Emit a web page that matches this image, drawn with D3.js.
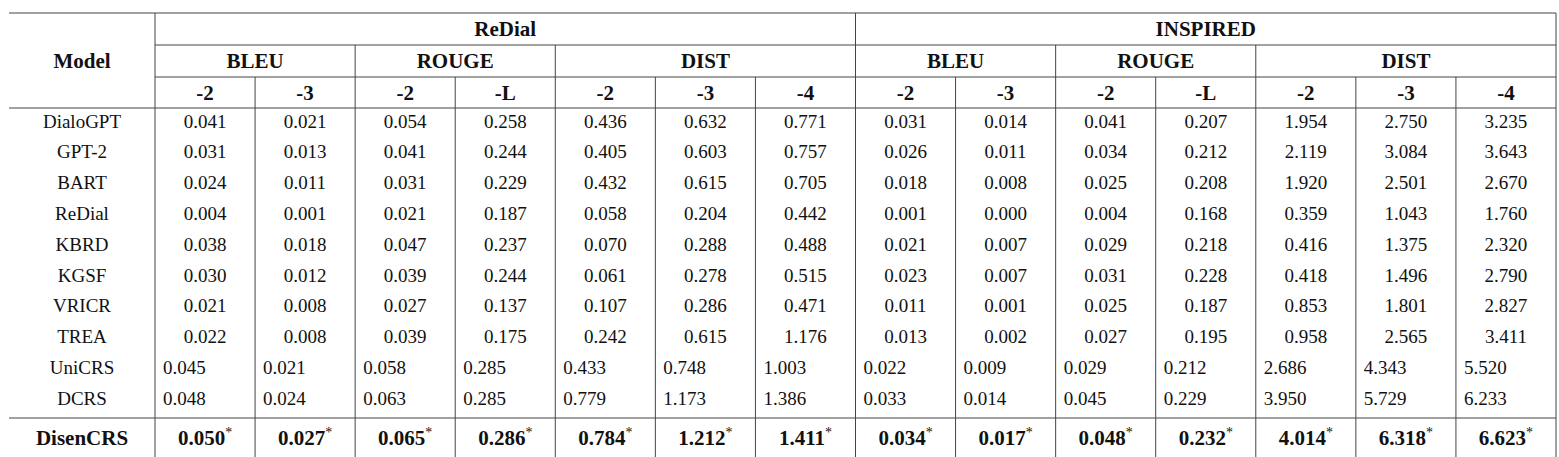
<!DOCTYPE html>
<html><head><meta charset="utf-8">
<script src="https://cdn.jsdelivr.net/npm/d3@7"></script>
<style>body{margin:0;background:#fff}svg{font-family:"Liberation Serif",serif}</style>
</head><body><svg></svg>
<script>
// ---- data ----
const datasets = ["ReDial", "INSPIRED"];
const metrics = [["BLEU", 2], ["ROUGE", 2], ["DIST", 3]];
const subLabels = ["-2", "-3", "-2", "-L", "-2", "-3", "-4"];
const models = ["DialoGPT", "GPT-2", "BART", "ReDial", "KBRD", "KGSF", "VRICR", "TREA", "UniCRS", "DCRS", "DisenCRS"];
const redial = [
  [0.041, 0.021, 0.054, 0.258, 0.436, 0.632, 0.771],
  [0.031, 0.013, 0.041, 0.244, 0.405, 0.603, 0.757],
  [0.024, 0.011, 0.031, 0.229, 0.432, 0.615, 0.705],
  [0.004, 0.001, 0.021, 0.187, 0.058, 0.204, 0.442],
  [0.038, 0.018, 0.047, 0.237, 0.070, 0.288, 0.488],
  [0.030, 0.012, 0.039, 0.244, 0.061, 0.278, 0.515],
  [0.021, 0.008, 0.027, 0.137, 0.107, 0.286, 0.471],
  [0.022, 0.008, 0.039, 0.175, 0.242, 0.615, 1.176],
  [0.045, 0.021, 0.058, 0.285, 0.433, 0.748, 1.003],
  [0.048, 0.024, 0.063, 0.285, 0.779, 1.173, 1.386],
  [0.050, 0.027, 0.065, 0.286, 0.784, 1.212, 1.411]
];
const inspired = [
  [0.031, 0.014, 0.041, 0.207, 1.954, 2.750, 3.235],
  [0.026, 0.011, 0.034, 0.212, 2.119, 3.084, 3.643],
  [0.018, 0.008, 0.025, 0.208, 1.920, 2.501, 2.670],
  [0.001, 0.000, 0.004, 0.168, 0.359, 1.043, 1.760],
  [0.021, 0.007, 0.029, 0.218, 0.416, 1.375, 2.320],
  [0.023, 0.007, 0.031, 0.228, 0.418, 1.496, 2.790],
  [0.011, 0.001, 0.025, 0.187, 0.853, 1.801, 2.827],
  [0.013, 0.002, 0.027, 0.195, 0.958, 2.565, 3.411],
  [0.022, 0.009, 0.029, 0.212, 2.686, 4.343, 5.520],
  [0.033, 0.014, 0.045, 0.229, 3.950, 5.729, 6.233],
  [0.034, 0.017, 0.048, 0.232, 4.014, 6.318, 6.623]
];
const leftRows = ["UniCRS", "DCRS"];

// ---- layout ----
const W = 1559, H = 457;
const svg = d3.select("svg").attr("width", W).attr("height", H);
const left = 9, modelW = 146, right = 1556;
const xs = d3.scaleLinear().domain([0, 14]).range([left + modelW, right]);
const ys = d3.scaleLinear().domain([0, 9]).range([121, 398]);
const stroke = "#444";
const line = (x1, y1, x2, y2, w) => svg.append("line").attr("x1", x1).attr("y1", y1).attr("x2", x2).attr("y2", y2)
  .attr("stroke", stroke).attr("stroke-width", w || 1);
const txt = (x, y, s, opt) => svg.append("text").attr("x", x).attr("y", y).attr("dy", "0.35em")
  .attr("text-anchor", (opt && opt.anchor) || "middle").attr("font-size", (opt && opt.size) || 19)
  .attr("font-weight", opt && opt.bold ? "bold" : "normal").attr("fill", "#111").text(s);

const yTop = 13, yG = 45, yM = 77, yS = 108, yB = 418, yLast = 438;
// horizontal rules
line(left, yTop, right, yTop, 1.2);
line(xs(0), yG, right, yG);
line(xs(0), yM, right, yM);
line(left, yS, right, yS, 1.2);
line(left, yB, right, yB, 1.2);

// vertical rules
line(xs(0), yTop, xs(0), H);
line(xs(7), yTop, xs(7), H);
datasets.forEach((d, di) => {
  [2, 4].forEach(m => line(xs(di * 7 + m), yG, xs(di * 7 + m), H));
  subLabels.forEach((s, si) => { if (![0, 2, 4].includes(si)) line(xs(di * 7 + si), yM, xs(di * 7 + si), H); });
});
line(right, yTop, right, H);

// headers
txt(left + modelW / 2, (yTop + yS) / 2, "Model", {bold: true, size: 21});
datasets.forEach((d, di) => {
  txt((xs(di * 7) + xs(di * 7 + 7)) / 2, (yTop + yG) / 2, d, {bold: true, size: 21});
  let c = di * 7;
  metrics.forEach(([m, n]) => {
    txt((xs(c) + xs(c + n)) / 2, (yG + yM) / 2, m, {bold: true, size: 21});
    c += n;
  });
  subLabels.forEach((s, si) => txt((xs(di * 7 + si) + xs(di * 7 + si + 1)) / 2, (yM + yS) / 2, s, {bold: true, size: 21}));
});

// body
models.forEach((m, r) => {
  const last = r === models.length - 1;
  const y = last ? yLast : ys(r);
  txt(left + modelW / 2, y, m, {bold: last, size: last ? 21 : 19});
  const vals = redial[r].concat(inspired[r]);
  vals.forEach((v, c) => {
    const isLeft = leftRows.includes(m);
    const x = isLeft ? xs(c) + 8 : (xs(c) + xs(c + 1)) / 2;
    const t = txt(x, y, v.toFixed(3), {bold: last, size: last ? 21 : 19, anchor: isLeft ? "start" : "middle"});
    if (last) t.append("tspan").attr("font-size", 14).attr("font-weight", "normal").attr("dy", "-0.6em").text("*");
  });
});
</script></body></html>
